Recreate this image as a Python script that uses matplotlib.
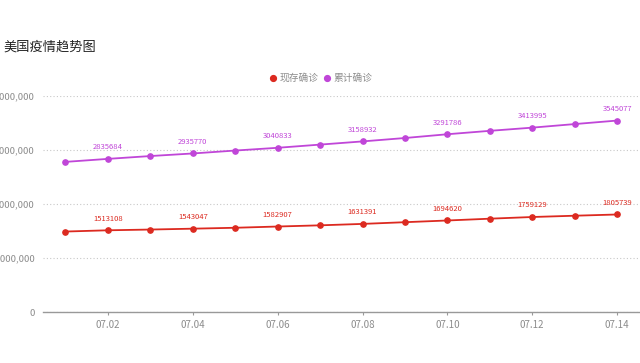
import matplotlib
matplotlib.use('Agg')
import matplotlib.pyplot as plt
from matplotlib.ticker import FuncFormatter

plt.rcParams['font.family'] = ['Noto Sans CJK SC', 'DejaVu Sans']

# Data (odd days estimated from point positions)
dates = ['07.01', '07.02', '07.03', '07.04', '07.05', '07.06', '07.07',
         '07.08', '07.09', '07.10', '07.11', '07.12', '07.13', '07.14']
existing = [1490000, 1513108, 1527000, 1543047, 1560000, 1582907, 1605000,
            1631391, 1663000, 1694620, 1728000, 1759129, 1783000, 1805739]
cumulative = [2780000, 2835684, 2888000, 2935770, 2990000, 3040833, 3100000,
              3158932, 3222000, 3291786, 3355000, 3413995, 3480000, 3545077]

red = '#dc2a20'
purple = '#c046d8'
grey = '#8c8c8c'

fig = plt.figure(figsize=(6.4, 3.63), dpi=100)
ax = fig.add_axes([43 / 640, 1 - 312 / 363, 1 - 43 / 640, (312 - 96) / 363])

x = list(range(len(dates)))
ax.plot(x, existing, color=red, lw=1.3, marker='o', ms=3.8, zorder=3, label='现存确诊')
ax.plot(x, cumulative, color=purple, lw=1.3, marker='o', ms=3.8, zorder=3, label='累计确诊')

# value labels on every other point
for i in range(1, len(dates), 2):
    ax.annotate(str(existing[i]), (x[i], existing[i]), xytext=(0, 5.5),
                textcoords='offset points', ha='center', va='bottom',
                fontsize=5.5, color=red)
    ax.annotate(str(cumulative[i]), (x[i], cumulative[i]), xytext=(0, 5.5),
                textcoords='offset points', ha='center', va='bottom',
                fontsize=5.5, color=purple)

ax.set_ylim(0, 4000000)
ax.set_yticks([0, 1000000, 2000000, 3000000, 4000000])
ax.yaxis.set_major_formatter(FuncFormatter(lambda v, p: '{:,.0f}'.format(v)))
ax.set_xlim(-0.53, 13.54)
ax.set_xticks(x[1::2])
ax.set_xticklabels(dates[1::2])

ax.grid(axis='y', color='#c8c8c8', linestyle=(0, (1, 2)), lw=0.8)
for s in ['top', 'right', 'left']:
    ax.spines[s].set_visible(False)
ax.spines['bottom'].set_color('#999999')
ax.spines['bottom'].set_linewidth(1.0)
ax.tick_params(axis='y', length=0, labelsize=6.8, labelcolor=grey, pad=6)
ax.tick_params(axis='x', length=2.5, color='#999999', labelsize=7, labelcolor=grey, pad=3)
ax.set_axisbelow(True)

fig.text(3 / 640, 1 - 47 / 363, '美国疫情趋势图', fontsize=9.5, color='#222222',
         ha='left', va='center')

leg = fig.legend(loc='center', bbox_to_anchor=(0.502, 1 - 78 / 363), ncol=2,
                 frameon=False, fontsize=7, handlelength=0.6, handletextpad=0.4,
                 columnspacing=0.6, markerscale=1.1)
for h in leg.legend_handles:
    h.set_linestyle('none')
for t in leg.get_texts():
    t.set_color(grey)

fig.savefig('out.png', dpi=100)
